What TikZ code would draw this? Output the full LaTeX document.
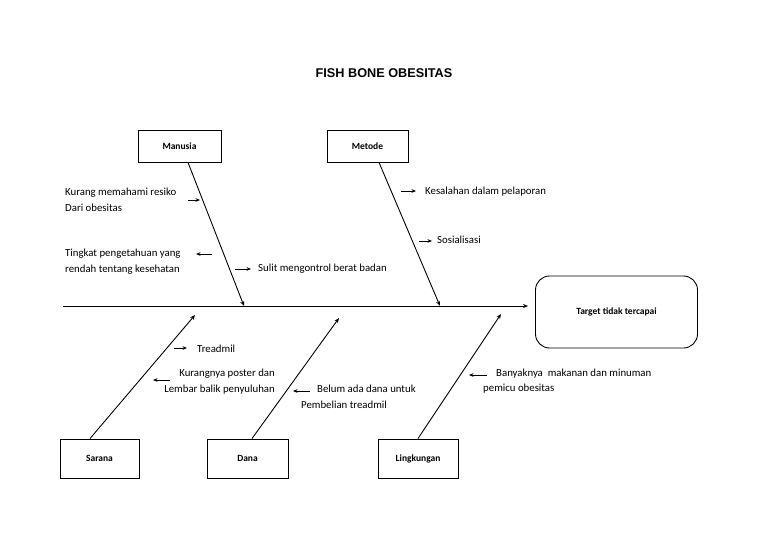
\documentclass[tikz,border=0pt]{standalone}
\usepackage{fontspec}
\setmainfont{Carlito}
\newfontfamily\titlefont{Liberation Sans}
\usetikzlibrary{arrows.meta}
\begin{document}
\begin{tikzpicture}[x=1pt,y=-1pt,
  catbox/.style={draw, line width=0.9pt, inner sep=0pt, font=\fontsize{9.5}{11}\selectfont\bfseries},
  bone/.style={line width=0.9pt, -{Stealth[length=5pt,width=4pt]}},
  tick/.style={line width=0.8pt, -{Stealth[length=4.5pt,width=3.6pt]}},
  lbl/.style={inner sep=0pt, font=\fontsize{10.8}{15.5}\selectfont}]
\useasboundingbox[fill=white] (0,0) rectangle (768,543);

\node[inner sep=0pt, font=\titlefont\bfseries\fontsize{12.7}{14}\selectfont] (title) at (384,73) {FISH BONE OBESITAS};

% category boxes
\node[catbox, minimum width=83pt, minimum height=32pt] (manusia) at (179.5,146) {Manusia};
\node[catbox, minimum width=81pt, minimum height=32pt] (metode) at (367.5,146) {Metode};
\node[catbox, minimum width=79pt, minimum height=39pt] (sarana) at (99.5,458.5) {Sarana};
\node[catbox, minimum width=81pt, minimum height=39pt] (dana) at (247.5,458.5) {Dana};
\node[catbox, minimum width=80pt, minimum height=39pt] (lingkungan) at (418,458.5) {Lingkungan};
\node[catbox, rounded corners=14pt, minimum width=162pt, minimum height=72pt] (target) at (616.5,312) {Target tidak tercapai};

% spine
\coordinate (s0) at (63,306);
\coordinate (s1) at (528,306);
\draw[bone] (s0) -- (s1);

% bones
\coordinate (m1) at (244,306);
\coordinate (t1) at (440,306);
\coordinate (sa1) at (195,315);
\coordinate (d1) at (339,318);
\coordinate (l1) at (501,314);
\draw[bone] ([xshift=8.5pt]manusia.south) -- (m1);
\draw[bone] ([xshift=11.5pt]metode.south) -- (t1);
\draw[bone] ([xshift=-9.5pt]sarana.north) -- (sa1);
\draw[bone] ([xshift=4.5pt]dana.north) -- (d1);
\draw[bone] (lingkungan.north) -- (l1);

% labels
\node[lbl, anchor=west, align=left] (c1) at (65,200) {Kurang memahami resiko\\Dari obesitas};
\node[lbl, anchor=west, align=left] (c2) at (65,261.5) {Tingkat pengetahuan yang\\rendah tentang kesehatan};
\node[lbl, anchor=west] (c3) at (258,269) {Sulit mengontrol berat badan};
\node[lbl, anchor=west] (c4) at (425,192) {Kesalahan dalam pelaporan};
\node[lbl, anchor=west] (c5) at (437,240) {Sosialisasi};
\node[lbl, anchor=west] (c6) at (197,349) {Treadmil};
\node[lbl, anchor=east, align=right] (c7) at (275,381.5) {Kurangnya poster dan\\Lembar balik penyuluhan};
\node[lbl, anchor=west] (c8a) at (317,389) {Belum ada dana untuk};
\node[lbl, anchor=west] (c8b) at (301,405) {Pembelian treadmil};
\node[lbl, anchor=west] (c9a) at (496,374) {Banyaknya~ makanan dan minuman};
\node[lbl, anchor=west] (c9b) at (483,389) {pemicu obesitas};

% small arrows
\coordinate (a1s) at (188,200); \coordinate (a1e) at (200,200);
\coordinate (a2s) at (212,254); \coordinate (a2e) at (196,254);
\coordinate (a3s) at (235,269); \coordinate (a3e) at (251,269);
\coordinate (a4s) at (401,191); \coordinate (a4e) at (416,191);
\coordinate (a5s) at (419,241); \coordinate (a5e) at (432,241);
\coordinate (a6s) at (174,348); \coordinate (a6e) at (187,348);
\coordinate (a7s) at (170,380); \coordinate (a7e) at (153,380);
\coordinate (a8s) at (310,391); \coordinate (a8e) at (293,391);
\coordinate (a9s) at (487,375); \coordinate (a9e) at (469,375);
\foreach \i in {1,...,9} {\draw[tick] (a\i s) -- (a\i e);}
\end{tikzpicture}
\end{document}
